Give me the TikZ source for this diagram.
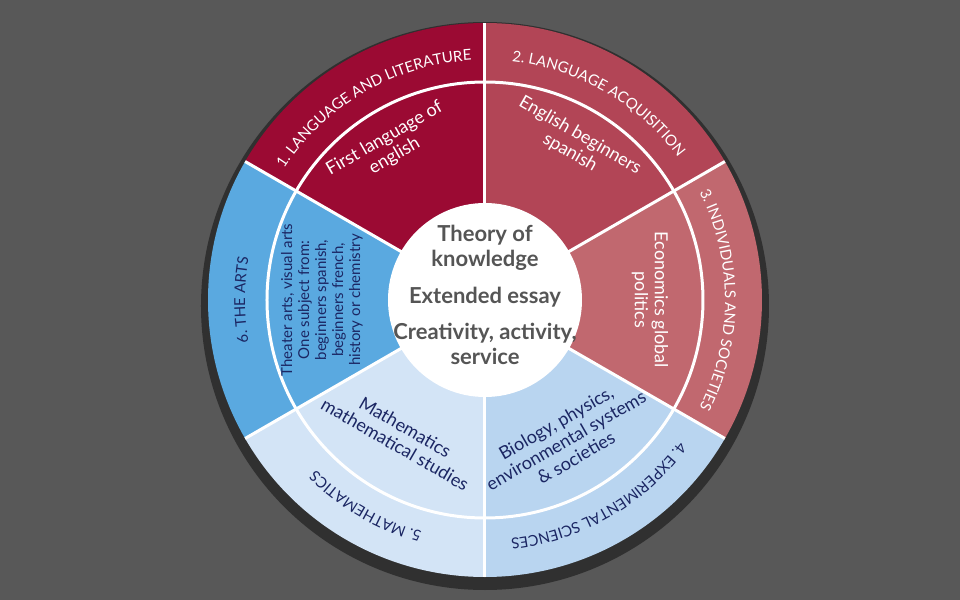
\documentclass[tikz,border=0pt]{standalone}
\usepackage{fontspec}
\setmainfont{Lato}
\usetikzlibrary{decorations.text}
\definecolor{bgcolor}{HTML}{585858}
\definecolor{secA}{HTML}{9B0A33}
\definecolor{secB}{HTML}{B24556}
\definecolor{secC}{HTML}{C1686F}
\definecolor{secD}{HTML}{B9D5F0}
\definecolor{secE}{HTML}{D3E4F6}
\definecolor{secF}{HTML}{5AA9E0}
\definecolor{navy}{HTML}{1B2663}
\definecolor{coretext}{HTML}{555555}
\begin{document}
\begin{tikzpicture}[
    x=0.5pt, y=0.5pt,
    subject/.style={font=\fontsize{9}{10}\selectfont, align=center, inner sep=0pt},
    core/.style={font=\fontsize{11}{12.5}\selectfont\bfseries, text=coretext, align=center},
    ring/.style={decorate, decoration={text along path, text align=center,
                 text={#1}}},
    divider/.style={white, line width=1.5pt},
]

% Background
\fill[bgcolor] (-485,-300) rectangle (475,300);
\useasboundingbox (-485,-300) rectangle (475,300);
\fill[black!45!bgcolor] (0,-6) circle (284);

% Sectors
\foreach \a/\c in {90/secA, 30/secB, -30/secC, -90/secD, -150/secE, 150/secF}
    \fill[\c] (0,0) -- (\a:277) arc[start angle=\a, end angle=\a+60, radius=277] -- cycle;

% Dividers
\draw[divider] (0,0) circle (218);
\foreach \a in {90, 30, -30, -90, -150, 150}
    \draw[divider] (0,0) -- (\a:277);
\fill[white] (0,0) circle (97);

% Outer ring labels
\path[ring={|\fontsize{7.5}{8}\selectfont\color{white}|1. LANGUAGE AND LITERATURE}]
    (148:240) arc[start angle=148, end angle=92, radius=240];
\path[ring={|\fontsize{7.5}{8}\selectfont\color{white}|2. LANGUAGE ACQUISITION}]
    (88:240) arc[start angle=88, end angle=32, radius=240];
\path[ring={|\fontsize{7.5}{8}\selectfont\color{white}|3. INDIVIDUALS AND SOCIETIES}]
    (28:240) arc[start angle=28, end angle=-28, radius=240];
\path[ring={|\fontsize{7.5}{8}\selectfont\color{navy}|4. EXPERIMENTAL SCIENCES}]
    (-32:240) arc[start angle=-32, end angle=-88, radius=240];
\path[ring={|\fontsize{7.5}{8}\selectfont\color{navy}|5. MATHEMATICS}]
    (-92:240) arc[start angle=-92, end angle=-148, radius=240];
\path[ring={|\fontsize{7.5}{8}\selectfont\color{navy}|6. THE ARTS}]
    (-152:240) arc[start angle=-152, end angle=-208, radius=240];

% Subjects
\node[subject, text=white, rotate=30] (lit) at (122:180) {First language of\\english};
\node[subject, text=white, rotate=-30] (acq) at (60:180) {English beginners\\spanish};
\node[subject, text=white, rotate=-90] (soc) at (0:165) {Economics global\\politics};
\node[subject, text=navy, rotate=30] (sci) at (-60:162) {Biology, physics,\\environmental systems\\\& societies};
\node[subject, text=navy, rotate=-30] (math) at (-122:160) {Mathematics\\mathematical studies};
\node[subject, text=navy, rotate=90, font=\fontsize{7.5}{8.5}\selectfont] (arts) at (180:163)
    {Theater arts, visual arts\\One subject from:\\beginners spanish,\\beginners french,\\history or chemistry};

% Core
\node[core] (tok) at (0,52) {Theory of\\knowledge};
\node[core] (ee) at (0,3) {Extended essay};
\node[core] (cas) at (0,-44) {Creativity, activity,\\service};

\end{tikzpicture}
\end{document}
